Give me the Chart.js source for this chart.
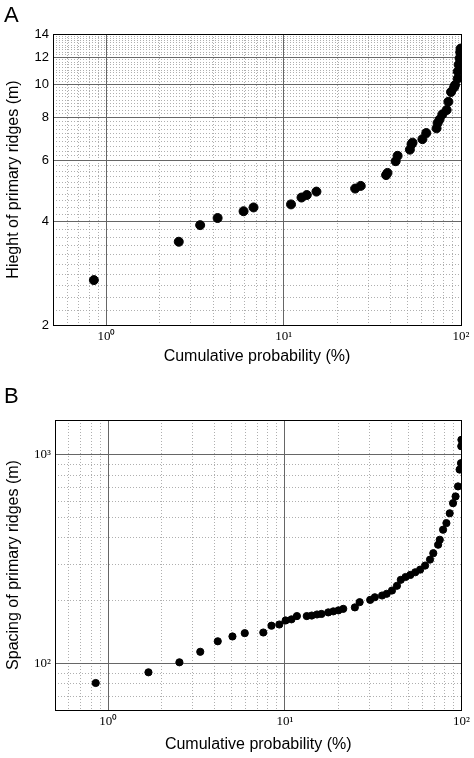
<!DOCTYPE html>
<html><head><meta charset="utf-8">
<script src="https://cdn.jsdelivr.net/npm/chart.js@4"></script>
<style>
body{margin:0;background:#fff;font-family:"Liberation Sans",Arial,sans-serif;}
.wrap{position:absolute;left:0;width:474px;}
.lab{position:absolute;left:4px;font-size:22px;color:#000;}
</style></head><body>
<div class="wrap" style="top:0;height:370px"><canvas id="a"></canvas></div>
<div class="wrap" style="top:370px;height:388px"><canvas id="b"></canvas></div>
<div class="lab" style="top:2px">A</div>
<div class="lab" style="top:383px">B</div>
<script>
const heightProb=[0.85,2.56,3.38,4.24,5.94,6.76,11.0,12.6,13.5,15.3,25.3,27.2,37.8,38.5,42.8,43.9,51.5,52.6,53.3,60.6,63.7,72.8,73.8,75.7,78.5,83.0,84.9,87.9,91.4,92.5,95.9,95.9,97.0,98.2,99.0,99.5];
const heightVals=[2.70,3.49,3.90,4.09,4.28,4.39,4.48,4.69,4.77,4.88,4.98,5.07,5.45,5.53,5.98,6.20,6.46,6.70,6.77,6.93,7.22,7.45,7.72,7.90,8.18,8.42,8.90,9.50,9.80,9.95,10.4,10.9,11.4,11.9,12.4,12.7];
const spacingProb=[0.85,1.69,2.53,3.32,4.17,5.05,5.93,7.55,8.4,9.3,10.1,10.9,11.7,13.3,14.2,15.2,16.1,17.6,18.8,20.1,21.4,24.9,26.5,30.4,32.3,35.5,37.7,40.4,43.1,45.3,48.2,51.3,54.7,58.3,62.2,66.3,69.2,73.7,75.3,78.6,82.1,85.7,89.5,92.5,95.5,97.5,99.3,99.6,99.8];
const spacingVals=[80.8,90.9,101.5,114,128,135,140,141,152,154,161,163,169,169,170,172,173,176,178,180,183,186,197,202,208,212,216,224,236,252,260,266,274,282,295,315,338,371,392,438,471,525,587,632,706,850,912,1100,1180];
const xMajorTicks=[1,10,100];
const xMajorLabels=['10⁰','10¹','10²'];
const xMinorTicks=[0.5,0.6,0.7,0.8,0.9,2,3,4,5,6,7,8,9,20,30,40,50,60,70,80,90];
const hMajorTicks=[2,4,6,8,10,12,14];
const hMinorTicks=[];for(let v=2.2;v<14;v+=0.2)hMinorTicks.push(+v.toFixed(1));
const sMajorTicks=[100,1000];
const sMajorLabels=['10²','10³'];
const sMinorTicks=[60,70,80,90,200,300,400,500,600,700,800,900];

const F='"Liberation Sans", Arial, sans-serif';
const S='"Liberation Serif", "Times New Roman", serif';
function make(id,xs,ys,o){
  const data=xs.map((x,i)=>({x:x,y:ys[i]}));
  const setT=v=>s=>{s.ticks=v.map(t=>({value:t}));};
  new Chart(document.getElementById(id),{
    type:'scatter',
    data:{datasets:[{data:data,backgroundColor:'#000',borderColor:'#000',pointRadius:o.r,pointHoverRadius:o.r,xAxisID:'x',yAxisID:'y'}]},
    options:{responsive:true,maintainAspectRatio:false,animation:false,
      layout:{padding:{top:o.top,right:o.right,left:0,bottom:0}},
      plugins:{legend:{display:false},tooltip:{enabled:false}},
      scales:{
        xm:{type:'logarithmic',position:'bottom',min:0.5,max:100,afterBuildTicks:setT(xMinorTicks),
          ticks:{display:false},grid:{color:'#9a9a9a',lineWidth:0.8,drawTicks:false},border:{display:false,dash:[1,2]},
          afterFit:s=>{s.height=0;}},
        x:{type:'logarithmic',position:'bottom',min:0.5,max:100,afterBuildTicks:setT(xMajorTicks),
          ticks:{color:'#000',font:{family:S,size:13},padding:4,callback:(v)=>xMajorLabels[xMajorTicks.indexOf(v)]||'',autoSkip:false,maxRotation:0},
          grid:{color:'#666',lineWidth:1,drawTicks:false},border:{display:true,color:'#000',width:1},
          title:{display:true,text:'Cumulative probability (%)',color:'#000',font:{family:F,size:16},padding:{top:1}},
          afterFit:s=>{s.height=o.xh;}},
        ym:{type:'logarithmic',position:'left',min:o.ymin,max:o.ymax,afterBuildTicks:setT(o.yMinor),
          ticks:{display:false},grid:{color:'#9a9a9a',lineWidth:0.8,drawTicks:false},border:{display:false,dash:[1,2]},
          afterFit:s=>{s.width=0;}},
        y:{type:'logarithmic',position:'left',min:o.ymin,max:o.ymax,afterBuildTicks:setT(o.yMajor),
          ticks:{color:'#000',font:{family:o.yfont,size:13},padding:4,callback:(v)=>o.yLab(v),autoSkip:false},
          grid:{color:'#666',lineWidth:1,drawTicks:false},border:{display:true,color:'#000',width:1},
          title:{display:true,text:o.ytitle,color:'#000',font:{family:F,size:16},padding:{bottom:2}},
          afterFit:s=>{s.width=o.yw;}},
        xt:{type:'logarithmic',position:'top',min:0.5,max:100,ticks:{display:false},grid:{display:false,drawTicks:false},border:{display:true,color:'#000'},afterFit:s=>{s.height=0;}},
        yr:{type:'logarithmic',position:'right',min:o.ymin,max:o.ymax,ticks:{display:false},grid:{display:false,drawTicks:false},border:{display:true,color:'#000'},afterFit:s=>{s.width=0;}}
      }
    }
  });
}
make('a',heightProb,heightVals,{r:4.5,top:34,right:13,xh:45,yw:53,ymin:2,ymax:14,yMajor:hMajorTicks,yMinor:hMinorTicks,yfont:F,
  yLab:v=>hMajorTicks.includes(v)?String(v):'',ytitle:'Hieght of primary ridges (m)'});
make('b',spacingProb,spacingVals,{r:3.6,top:50,right:11,xh:48,yw:55,ymin:60,ymax:1468,yMajor:sMajorTicks,yMinor:sMinorTicks,yfont:S,
  yLab:v=>sMajorLabels[sMajorTicks.indexOf(v)]||'',ytitle:'Spacing of primary ridges (m)'});
</script></body></html>
